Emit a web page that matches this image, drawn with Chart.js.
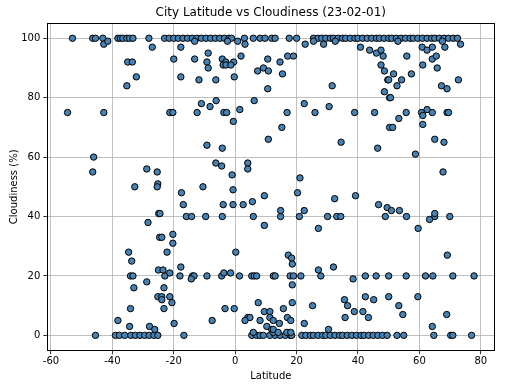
<!DOCTYPE html>
<html>
<head>
<meta charset="utf-8">
<script src="https://cdn.jsdelivr.net/npm/chart.js@4"></script>
<style>
  html, body { margin: 0; padding: 0; background: #fff; }
</style>
</head>
<body>
<canvas id="chartNubes" width="508" height="388"></canvas>
<script>
// ticks
const X_TICKS = [-60, -40, -20, 0, 20, 40, 60, 80];
const Y_TICKS = [0, 20, 40, 60, 80, 100];

// latitudes of the cities sitting on the round cloudiness rows
const ROW_100 = [-53, -46.4, -45.5, -43.1, -38.2, -37.4, -36.6, -35.3, -34.4, -33.3, -28.1,
  -23, -21.5, -20, -18.5, -17, -15.5, -14, -12.5, -11, -9.5, -8, -6.5, -5, -3.5, -2, -1.2,
  3, 5.9, 8.1, 9.7, 11.9, 13, 17.6, 20, 25.5, 27, 28.2, 29.5, 31, 32, 33.5, 35, 36, 37.5,
  39, 40, 41.5, 43, 44.5, 46, 47, 48.5, 50, 51, 52.5, 54, 55.5, 57, 58, 59.5, 61, 62.5,
  64, 65, 66.5, 68, 69.5, 71, 72.4];
const ROW_75 = [-54.6, -42.8, -21.3, -20.3, -12.4, -3.7, -2.8, 16.9, 26, 38.9, 45.4, 55.7, 60.7, 64.2, 69, 69.5];
const ROW_40 = [-15.9, -14.2, -9.6, -4.2, 5.9, 14.8, 20.9, 30.1, 33.1, 34.4, 48.9, 55.8, 65, 69.9];
const ROW_20 = [-34.1, -33.3, -22.9, -18, -13.9, -13.4, -9.2, -4.4, 1.4, 5.4, 6.2, 7, 12.4, 13,
  17.9, 19, 21.4, 27.9, 42.4, 45.9, 50, 55.7, 62, 64.4, 70.9, 77.8];
const ROW_0 = [-45.5, -39, -37.7, -36, -34, -32.5, -31, -29.5, -28, -26.5, -25.2, -16.7,
  5.4, 7, 8.1, 9.2, 11.3, 13, 14.6, 16.3, 17.9, 18.4, 21.7, 23, 24.5, 25.5, 27, 28.5, 29.5,
  31, 32.5, 34, 35, 36.5, 38, 39.5, 41, 42, 43.5, 45, 46.5, 48, 49.5, 52.7, 54.9, 64.7,
  70.2, 70.9, 77];

// the rest: [latitude, cloudiness]
const SUR = [[-42.8,98],[-41.5,99],[-27,97],[-35,92],[-33.5,92],[-32.2,87],[-35.3,84],
  [-46.1,60],[-46.4,55],[-28.8,56],[-25.4,55],[-32.7,50],[-25.2,51],[-25.4,50],[-24.9,41],
  [-28.4,38],[-24.6,33],[-34.7,28],[-33.7,25],[-33,16],[-28.8,18],[-34.1,9],[-38.2,5],
  [-34.4,3],[-27.9,3],[-26.2,2],[-25,22],[-25.2,13]];
const TROPICO = [[-17.7,97],[-13.2,99],[-2.5,99],[0.8,99],[3.2,98],[-8.8,95],[-20,93],[-13.2,93],
  [-9.2,92],[-4.2,93],[-3.1,92],[-0.5,92],[1.9,94],[10.6,93],[-8.8,90],[-3.9,91],[-3,91],
  [-1.4,91],[7.3,89],[9.2,90],[10.8,89],[-17.7,87],[-11.8,86],[-6.3,86],[-0.3,87],[10.6,83],
  [6.2,79],[-6.2,79],[-11,78],[-8.2,77],[1.5,76],[-0.6,72],[-9.2,64],[-4.2,63],[10.8,66],
  [-6.3,58],[-4.4,57],[4.1,58],[4.1,56],[-1,54],[-10.5,50],[-0.7,49],[-17.5,48],[9.5,47],
  [5.6,45],[-16.9,44],[-3.9,44],[-0.7,44],[2.6,44],[-24.5,41],[9.5,37],[-23.9,33],[-20.3,34],
  [-20.3,31],[-22.2,28],[0.2,28],[-17.7,23],[-23.5,22],[-21.3,21],[-14.3,19],[-3.7,21],
  [-1.5,21],[-23.2,16],[-23.9,13],[-23.9,12],[-21.3,13],[-20.6,11],[-23.2,9],[-19.9,4],
  [-7.5,5],[-3.3,9],[-0.3,9],[7.5,11],[9.5,8],[11.3,8],[11.3,6],[4.1,6],[4.8,6],[3.2,5],
  [8.1,5],[10.3,3],[11.9,2],[12.4,1],[5.9,1]];
const NORTE = [[22.8,98],[25.5,99],[28.8,98],[32.6,99],[40.8,97],[43.8,96],[46,95],[47.5,96],
  [48.2,94],[47.5,91],[48.6,89],[49.7,86],[48.6,82],[50.3,80],[14.6,92],[17.1,94],[19,94],
  [15.4,88],[31.6,84],[22.5,78],[30.6,77],[15.2,70],[50.3,70],[53,99],[60.9,97],[62.5,96],
  [64.2,97],[67.5,99],[68.3,97],[73.4,98],[55.9,94],[64.2,93],[65.5,94],[61.1,91],[65.8,90],
  [51.6,88],[50,86],[54.2,86],[57.4,88],[52.7,84],[72.7,86],[67.2,84],[69,83],[50.6,80],
  [51.3,70],[53.3,73],[61.1,74],[62.5,76],[61.1,71],[34.5,65],[46.4,63],[21.1,53],[20.3,48],
  [32.4,46],[39.2,47],[14.8,42],[22.5,42],[46.7,44],[49.5,43],[27.1,36],[65,66],[68,65],
  [58.7,61],[67.7,55],[50.9,42],[53.5,42],[59.6,36],[63.3,39],[65,41],[17.3,27],[18.4,26],
  [18.6,24],[27.1,22],[32,23],[38.4,19],[18.6,17],[18.6,11],[25.2,10],[35.6,12],[36.6,10],
  [42.4,13],[45.1,12],[50,13],[38.8,8],[41.6,8],[43.4,6],[35.8,6],[12.4,5],[14.4,4],[15.7,9],
  [17,6],[18.1,5],[22.5,4],[30.4,2],[12.4,2],[14,1],[16.8,1],[18.1,1],[69.1,27],[59.5,13],
  [53.3,10],[54.6,7],[68.9,7],[64.2,3]];

function armarPuntos() {
  const puntos = [];
  const filas = [[ROW_100, 100], [ROW_75, 75], [ROW_40, 40], [ROW_20, 20], [ROW_0, 0]];
  filas.forEach(([lats, nube]) => lats.forEach(lat => puntos.push({ x: lat, y: nube })));
  [SUR, TROPICO, NORTE].forEach(g => g.forEach(([lat, nube]) => puntos.push({ x: lat, y: nube })));
  return puntos;
}

const fuente = { family: 'DejaVu Sans', size: 10 };

// marco completo como en matplotlib
const marco = {
  id: 'marco',
  afterDraw(chart) {
    const { ctx, chartArea: a } = chart;
    ctx.save();
    ctx.strokeStyle = '#000';
    ctx.lineWidth = 1;
    ctx.strokeRect(Math.round(a.left) + 0.5, Math.round(a.top) + 0.5,
      Math.round(a.right - a.left), Math.round(a.bottom - a.top));
    ctx.restore();
  }
};

new Chart(document.getElementById('chartNubes'), {
  type: 'scatter',
  data: {
    datasets: [{
      data: armarPuntos(),
      pointRadius: 3.2,
      pointHoverRadius: 3.2,
      backgroundColor: '#4682b4',
      borderColor: '#000',
      borderWidth: 1
    }]
  },
  options: {
    responsive: false,
    animation: false,
    layout: { padding: { left: 0, right: 13.7, top: 0, bottom: 0 } },
    plugins: {
      legend: { display: false },
      tooltip: { enabled: false },
      title: {
        display: true,
        text: 'City Latitude vs Cloudiness (23-02-01)',
        fullSize: false,
        color: '#000',
        font: { family: 'DejaVu Sans', size: 12, weight: 'normal' },
        padding: { top: 6, bottom: 3 }
      }
    },
    scales: {
      x: {
        type: 'linear',
        min: -61.2,
        max: 84.4,
        afterBuildTicks: s => { s.ticks = X_TICKS.map(v => ({ value: v })); },
        afterFit: s => { s.height = 37.8; },
        grid: { color: '#b0b0b0', lineWidth: 0.8, tickColor: '#000', tickLength: 4 },
        border: { display: true, color: '#000', width: 1 },
        ticks: { color: '#000', font: fuente, padding: 1, maxRotation: 0 },
        title: { display: true, text: 'Latitude', color: '#000', font: fuente, padding: { top: 0, bottom: 6 } }
      },
      y: {
        min: -5,
        max: 105,
        afterBuildTicks: s => { s.ticks = Y_TICKS.map(v => ({ value: v })); },
        afterFit: s => { s.width = 47.3; },
        grid: { color: '#b0b0b0', lineWidth: 0.8, tickColor: '#000', tickLength: 4 },
        border: { display: true, color: '#000', width: 1 },
        ticks: { color: '#000', font: fuente, padding: 3 },
        title: { display: true, text: 'Cloudiness (%)', color: '#000', font: fuente, padding: { top: 8, bottom: 0 } }
      }
    }
  },
  plugins: [marco]
});
</script>
</body>
</html>
